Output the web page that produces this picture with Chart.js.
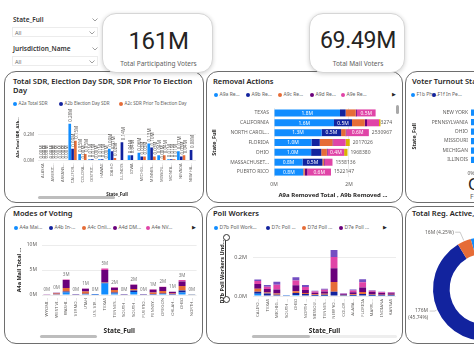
<!DOCTYPE html>
<html><head><meta charset="utf-8">
<script src="https://cdn.jsdelivr.net/npm/chart.js@4"></script>
<style>
html,body{margin:0;padding:0;overflow:hidden;}
body{width:474px;height:355px;position:relative;background:#fff;font-family:'Noto Sans','Open Sans',sans-serif;color:#252423;}
.panel{position:absolute;border:1px solid #6e6e6e;border-radius:12px;background:#fff;box-sizing:border-box;}
.card{position:absolute;border:1px solid #d6d6d6;border-radius:14px;background:#fff;box-shadow:0 1px 4px rgba(0,0,0,0.18);box-sizing:border-box;text-align:center;}
.title{position:absolute;font-size:7.5px;font-weight:600;color:#252423;line-height:8.5px;white-space:nowrap;}
.lg{position:absolute;color:#605E5C;white-space:nowrap;line-height:6px;}
.dot{display:inline-block;width:4px;height:4px;border-radius:50%;margin-right:1.5px;vertical-align:-0.5px;}
.t{position:absolute;white-space:nowrap;}
canvas{position:absolute;}
.sb{position:absolute;background:#bdbdbd;border-radius:2px;}
</style></head>
<body>
<!-- slicers -->
<div class="t" style="left:13px;top:15px;font-size:6.5px;font-weight:600;color:#333;">State_Full</div>
<svg class="t" style="left:92px;top:18px" width="6" height="4"><polyline points="0.5,0.5 3,3 5.5,0.5" fill="none" stroke="#888" stroke-width="0.8"/></svg>
<div class="t" style="left:12px;top:27px;width:86px;height:10px;border:1px solid #ececec;box-sizing:border-box;"></div>
<div class="t" style="left:15px;top:29px;font-size:5.5px;color:#666;">All</div>
<svg class="t" style="left:89px;top:31px" width="6" height="4"><polyline points="0.5,0.5 3,3 5.5,0.5" fill="none" stroke="#888" stroke-width="0.8"/></svg>
<div class="t" style="left:13px;top:44px;font-size:6.5px;font-weight:600;color:#333;">Jurisdiction_Name</div>
<svg class="t" style="left:92px;top:47px" width="6" height="4"><polyline points="0.5,0.5 3,3 5.5,0.5" fill="none" stroke="#888" stroke-width="0.8"/></svg>
<div class="t" style="left:12px;top:56px;width:86px;height:10px;border:1px solid #ececec;box-sizing:border-box;"></div>
<div class="t" style="left:15px;top:58px;font-size:5.5px;color:#666;">All</div>
<svg class="t" style="left:89px;top:60px" width="6" height="4"><polyline points="0.5,0.5 3,3 5.5,0.5" fill="none" stroke="#888" stroke-width="0.8"/></svg>

<!-- panels -->
<div class="panel" style="left:4px;top:71px;width:200px;height:132px;"></div>
<div class="panel" style="left:206px;top:71px;width:197px;height:132px;"></div>
<div class="panel" style="left:405px;top:71px;width:100px;height:132px;"></div>
<div class="panel" style="left:4px;top:206px;width:199px;height:138px;"></div>
<div class="panel" style="left:206px;top:206px;width:197px;height:138px;"></div>
<div class="panel" style="left:405px;top:206px;width:100px;height:138px;"></div>

<!-- cards -->
<div class="card" style="left:102px;top:13px;width:111px;height:60px;">
  <div class="t" style="left:0;width:111px;top:12px;font-family:Roboto,'Noto Sans',sans-serif;font-size:24px;line-height:30px;color:#252423;letter-spacing:-0.3px;">161M</div>
  <div class="t" style="left:0;width:111px;top:45px;font-size:6.5px;color:#605E5C;">Total Participating Voters</div>
</div>
<div class="card" style="left:309px;top:13px;width:96px;height:60px;">
  <div class="t" style="left:0;width:96px;top:12px;font-family:Roboto,'Noto Sans',sans-serif;font-size:23px;line-height:30px;color:#252423;letter-spacing:-0.3px;">69.49M</div>
  <div class="t" style="left:0;width:96px;top:45px;font-size:6.5px;color:#605E5C;">Total Mail Voters</div>
</div>

<!-- titles -->
<div class="title" style="left:13px;top:77px;">Total SDR, Election Day SDR, SDR Prior To Election<br>Day</div>
<div class="title" style="left:213px;top:77px;">Removal Actions</div>
<div class="title" style="left:412px;top:77px;">Voter Turnout Statistics</div>
<div class="title" style="left:13px;top:209px;">Modes of Voting</div>
<div class="title" style="left:213px;top:209px;">Poll Workers</div>
<div class="title" style="left:412px;top:209px;">Total Reg. Active, Inactive</div>

<div id="legends"></div>

<!-- scrollbars / slider -->
<div class="sb" style="left:38px;top:196px;width:77px;height:3px;"></div>
<div class="sb" style="left:396px;top:105px;width:3px;height:9px;background:#a8a8a8;"></div>
<div class="sb" style="left:40px;top:335px;width:57px;height:3px;"></div>
<div class="sb" style="left:252px;top:335px;width:145px;height:3px;background:#eeeeee;"></div>
<div class="sb" style="left:252px;top:335px;width:58px;height:3px;"></div>
<div class="t" style="left:225px;top:239px;width:1.3px;height:58px;background:#333;"></div>
<div class="t" style="left:222.5px;top:234px;width:5px;height:5px;border:1px solid #333;border-radius:50%;background:#fff;"></div>
<div class="t" style="left:222.5px;top:296px;width:5px;height:5px;border:1px solid #333;border-radius:50%;background:#fff;"></div>

<div class="t" style="left:468px;top:176px;font-size:16px;color:#252423;line-height:16px;">C</div>
<div class="t" style="left:470px;top:192px;font-size:7px;color:#605E5C;">F</div>

<canvas id="c1" width="194" height="94" style="left:6px;top:108px;"></canvas>
<canvas id="c2" width="192" height="100" style="left:208px;top:100px;"></canvas>
<canvas id="c3" width="200" height="100" style="left:405px;top:100px;"></canvas>
<canvas id="c4" width="194" height="104" style="left:6px;top:236px;"></canvas>
<canvas id="c5" width="186" height="104" style="left:214px;top:236px;"></canvas>
<canvas id="c6" width="160" height="128" style="left:405px;top:225px;"></canvas>

<script>
// ---------------- DATA ----------------
const sdrStates = ['ALASKA','AMERICAN SAMOA','ARKANSAS','CALIFORNIA','COLORADO','DISTRICT OF COLUMBIA','HAWAII','IDAHO','ILLINOIS','IOWA','MICHIGAN','MINNESOTA','MISSOURI','MONTANA','NEVADA','NEW HAMPSHIRE'];
const sdrTicks = ['ALASKA','AMERIC...','ARKANS...','CALIFOR...','COLORA...','DISTRIC...','HAWAII','IDAHO','ILLINOIS','IOWA','MICHIG...','MINNES...','MISSOU...','MONTA...','NEVADA','NEW HA...'];
const sdrTotal    = [0.00,0.00,0.00,0.28,0.05,0.01,0.01,0.09,null,0.04,0.06,0.13,0.04,0.01,0.07,null];
const sdrElection = [0.00,0.00,0.00,0.09,0.00,0.01,0.01,0.07,0.14,0.04,0.03,0.10,0.00,0.01,0.03,0.08];
const sdrPrior    = [0.00,0.00,0.00,0.15,0.05,0.00,0.00,0.02,null,null,0.03,0.03,0.04,0.01,0.04,null];
const sdrSeriesNames = ['A2a Total SDR','A2b Election Day SDR','A2c SDR Prior To Election Day'];

const removalStates = ['TEXAS','CALIFORNIA','NORTH CAROLINA','FLORIDA','OHIO','MASSACHUSETTS','PUERTO RICO'];
const removalTicks  = ['TEXAS','CALIFORNIA','NORTH CAROL...','FLORIDA','OHIO','MASSACHUSET...','PUERTO RICO'];
const removalA9a = [1.76,1.60,1.27,1.00,0.99,0.76,0.78];
const removalA9b = [0.15,0.48,0.52,0.22,0.27,0.53,0.00];
const removalA9c = [0.27,0.34,0.12,0.34,0.15,0.04,0.04];
const removalA9d = [0.03,0.06,0.02,0.02,0.02,0.02,0.07];
const removalA9e = [0.50,0.32,0.60,0.33,0.44,0.21,0.63];
const removalA9f = [0.00,0.04,0.00,0.11,0.09,0.00,0.00];
const removalTotals = [null,2843274,2530967,2017026,1968380,1558136,1522147];
const removalLegend = ['A9a Re...','A9b Re...','A9c Re...','A9d Re...','A9e Re...'];

const turnoutStates = ['NEW YORK','PENNSYLVANIA','OHIO','MISSOURI','MICHIGAN','ILLINOIS'];
const turnoutF1b = [61,63,60,58,64,59];
const turnoutF1f = [9,8,10,9,7,8];
const turnoutLegend = ['F1b Phy...','F1f In Pe...'];

const modeStates = ['WYOMING','WEST VIRGINIA','WASHINGTON','VERMONT','UTAH','U.S. VIRGIN ISLANDS','TEXAS','TENNESSEE','SOUTH DAKOTA','SOUTH CAROLINA','PUERTO RICO','PENNSYLVANIA','OREGON','OKLAHOMA','OHIO','NORTH DAKOTA'];
const modeTicks  = ['WYOMI...','WEST VI...','WASHI...','VERMO...','UTAH','U.S. VIR...','TEXAS','TENNES...','SOUTH ...','SOUTH ...','PUERTO...','PENNSY...','OREGON','OKLAH...','OHIO','NORTH...'];
const modeA4a = [0.08,0.08,0.50,0.10,0.15,0.02,2.30,0.30,0.10,0.60,0.08,0.10,0.20,0.10,0.50,0.05];
const modeA4b = [0.03,0.05,0.20,0.04,0.10,0.02,0.15,0.20,0.04,0.30,0.05,0.10,0.10,0.10,0.40,0.02];
const modeA4c = [0.01,0.17,0.70,0.02,0.45,0.01,0.10,0.50,0.02,0.30,0.02,0.30,0.50,0.10,0.90,0.01];
const modeA4d = [0.03,0.15,1.60,0.04,0.55,0.03,2.45,0.45,0.04,0.85,0.05,0.55,0.80,0.35,0.90,0.02];
const modeA4e = [0.00,0.02,0.10,0.00,0.05,0.00,0.30,0.08,0.00,0.05,0.00,0.08,0.07,0.02,0.30,0.00];
const modeLegend = ['A4a Mai...','A4b In-...','A4c Onli...','A4d DM...','A4e NV...'];

const pollStates = ['CALIFORNIA','TEXAS','MICHIGAN','SOUTH CAROLINA','OHIO','NORTH CAROLINA','MISSOURI','TENNESSEE','NEW YORK','COLORADO','ALABAMA','FLORIDA','MARYLAND','INDIANA','KANSAS'];
const pollTicks  = ['CALIFO...','TEXAS','MICHIG...','SOUTH ...','OHIO','NORTH ...','MISSOU...','TENNES...','NEW YO...','COLOR...','ALABA...','FLORIDA','MARYL...','INDIANA','KANSAS'];
const pollD7b = [0.012,0.003,0.002,0.001,0.005,0.002,0.001,0.001,0.002,0.001,0.001,0.002,0.001,0.001,0.001];
const pollD7c = [0.010,0.010,0.005,0.001,0.010,0.008,0.004,0.005,0.020,0.002,0.004,0.008,0.005,0.003,0.003];
const pollD7d = [0.015,0.005,0.006,0.000,0.010,0.006,0.004,0.005,0.050,0.002,0.004,0.010,0.004,0.003,0.003];
const pollD7e = [0.025,0.018,0.020,0.001,0.030,0.015,0.008,0.012,0.070,0.004,0.010,0.024,0.012,0.008,0.007];
const pollD7f = [0.015,0.012,0.025,0.000,0.025,0.015,0.006,0.009,0.058,0.003,0.009,0.026,0.005,0.004,0.004];
const pollD7g = [0.008,0.008,0.015,0.000,0.016,0.010,0.004,0.005,0.036,0.002,0.005,0.016,0.003,0.003,0.002];
const pollLegend = ['D7b Poll Work...','D7c Poll ...','D7d Poll ...','D7e Poll ...'];

const regLabels = ['Total Registered','Active','Inactive'];
const regValues = [192.4,176.0,16.35];

// ---------------- STYLE ----------------
const COL = ['#118DFF','#12239E','#E66C37','#6B007B','#E044A7','#744EC2','#D9B300'];
const FONT = "'Noto Sans','Open Sans',sans-serif";
Chart.defaults.font.family = FONT;
Chart.defaults.color = '#605E5C';
Chart.defaults.animation = false;
Chart.defaults.plugins.legend.display = false;
Chart.defaults.plugins.tooltip.enabled = false;

// legends (HTML)
function legend(top, fontSize, names, xs, arrowX){
  const root = document.getElementById('legends');
  names.forEach((n,i)=>{
    const d = document.createElement('div'); d.className='lg';
    d.style.left = xs[i]+'px'; d.style.top = (top-3)+'px'; d.style.fontSize = fontSize+'px';
    d.innerHTML = '<span class="dot" style="background:'+COL[i]+'"></span>'+n;
    root.appendChild(d);
  });
  if (arrowX){ const a=document.createElement('div'); a.className='lg'; a.style.left=arrowX+'px'; a.style.top=(top-3)+'px'; a.style.fontSize='5px'; a.style.color='#252423'; a.textContent='\u25B6'; root.appendChild(a);}
}
legend(103,4.5,sdrSeriesNames,[13,59,119]);
legend(94,5,removalLegend,[214,246,278,310,341],392);
legend(94,5,turnoutLegend,[411,432]);
legend(227,5,modeLegend,[14,49,82,113,146],192);
legend(227,5,pollLegend,[214,266,302,339],383);

const grid = {color:'#ececec', drawTicks:false};
function catX(ticks, fs, titleFs, titlePad, h){
  return {grid:{display:false,drawTicks:false}, border:{display:false},
    ticks:{autoSkip:false,minRotation:90,maxRotation:90,padding:3,font:{size:fs},color:'#605E5C',callback:(v,i)=>ticks[i]},
    title:{display:true,text:'State_Full',font:{size:titleFs,weight:'bold'},color:'#252423',padding:{top:0,bottom:titlePad}},
    afterFit:s=>{s.height=h;}};
}

// ---------- Chart 1 ----------
const sdrLabels = {id:'sdrLabels', afterDatasetsDraw(chart){
  const ctx=chart.ctx; ctx.save(); ctx.font='4.5px '+FONT; ctx.fillStyle='#605E5C';
  chart.data.datasets.forEach((ds,di)=>{
    chart.getDatasetMeta(di).data.forEach((bar,i)=>{
      const v=ds.data[i]; if(v==null) return;
      ctx.save(); ctx.translate(bar.x+1.3, bar.y-2); ctx.rotate(-Math.PI/2);
      ctx.textAlign='left'; ctx.textBaseline='middle'; ctx.fillText(v.toFixed(2)+'M',0,0); ctx.restore();
    });
  }); ctx.restore();
}};
new Chart(document.getElementById('c1'),{type:'bar',
  data:{labels:sdrStates,datasets:[
    {label:sdrSeriesNames[0],data:sdrTotal,backgroundColor:COL[0]},
    {label:sdrSeriesNames[1],data:sdrElection,backgroundColor:COL[1]},
    {label:sdrSeriesNames[2],data:sdrPrior,backgroundColor:COL[2]}]},
  options:{responsive:false,devicePixelRatio:1,layout:{padding:{top:2.6,right:4,left:0,bottom:0}},
    datasets:{bar:{categoryPercentage:0.85,barPercentage:0.95}},
    scales:{x:catX(sdrTicks,4,4.5,5,41.5),
      y:{min:0,max:0.35,border:{display:false},grid:grid,
        ticks:{stepSize:0.2,includeBounds:false,padding:4,font:{size:4.5},callback:v=>v.toFixed(1)+'M'},
        title:{display:true,text:'A2a Total SDR, A2b...',font:{size:4,weight:'bold'},color:'#252423',padding:{top:9,bottom:0}},
        afterFit:s=>{s.width=32;}}}},
  plugins:[sdrLabels]});

// ---------- Chart 2 ----------
const removalSeries=[removalA9a,removalA9b,removalA9c,removalA9d,removalA9e,removalA9f];
const removalLbl = {id:'removalLbl',
  beforeDatasetsDraw(chart){
    const ctx=chart.ctx, ca=chart.chartArea, xs=chart.scales.x, ys=chart.scales.y;
    ctx.save(); ctx.font='5px '+FONT; ctx.fillStyle='#605E5C'; ctx.textBaseline='middle'; ctx.textAlign='left';
    removalTotals.forEach((t,i)=>{
      if(t==null) return;
      const sum=removalSeries.reduce((a,s)=>a+s[i],0);
      const txt=String(t), w=ctx.measureText(txt).width;
      let x=xs.getPixelForValue(sum)+3; if(x+w>ca.right) x=ca.right-w;
      ctx.fillText(txt,x,ys.getPixelForValue(i));
    }); ctx.restore();
  },
  afterDatasetsDraw(chart){
    const ctx=chart.ctx; ctx.save(); ctx.font='5px '+FONT; ctx.fillStyle='#ffffff'; ctx.textAlign='center'; ctx.textBaseline='middle';
    chart.data.datasets.forEach((ds,di)=>{
      chart.getDatasetMeta(di).data.forEach((bar,i)=>{
        const p=bar.getProps(['x','y','base']); const w=p.x-p.base;
        if(w>=14) ctx.fillText(ds.data[i].toFixed(1)+'M',(p.x+p.base)/2,p.y+0.3);
      });
    }); ctx.restore();
  }};
new Chart(document.getElementById('c2'),{type:'bar',
  data:{labels:removalStates,datasets:removalSeries.map((s,i)=>({label:'A9'+'abcdef'[i],data:s,backgroundColor:COL[i===5?6:i]}))},
  options:{indexAxis:'y',responsive:false,devicePixelRatio:1,layout:{padding:{top:7.8,right:8,left:0,bottom:0}},
    datasets:{bar:{categoryPercentage:0.75,barPercentage:0.95}},
    scales:{
      x:{stacked:true,min:0,max:3.147,border:{display:false},grid:grid,
        ticks:{stepSize:2,includeBounds:false,padding:5,font:{size:5},callback:v=>(v%2===0)?v+'M':''},
        title:{display:true,text:'A9a Removed Total , A9b Removed ...',font:{size:6,weight:'bold'},color:'#252423',padding:{top:0,bottom:1}},
        afterFit:s=>{s.height=23;}},
      y:{stacked:true,border:{display:false},grid:{display:false,drawTicks:false},
        ticks:{padding:5,font:{size:5},color:'#605E5C',callback:(v,i)=>removalTicks[i]},
        title:{display:true,text:'State_Full',font:{size:5.5,weight:'bold'},color:'#252423',padding:{top:3,bottom:0}},
        afterFit:s=>{s.width=66;}}}},
  plugins:[removalLbl]});

// ---------- Chart 3 ----------
new Chart(document.getElementById('c3'),{type:'bar',
  data:{labels:turnoutStates,datasets:[
    {label:turnoutLegend[0],data:turnoutF1b,backgroundColor:COL[0]},
    {label:turnoutLegend[1],data:turnoutF1f,backgroundColor:COL[1]}]},
  options:{indexAxis:'y',responsive:false,devicePixelRatio:1,layout:{padding:{top:8,right:0,left:0,bottom:0}},
    datasets:{bar:{categoryPercentage:0.7,barPercentage:0.95}},
    scales:{
      x:{stacked:true,min:0,max:100,border:{display:false},grid:{display:false,drawTicks:false},
        ticks:{stepSize:20,padding:6,font:{size:5},callback:v=>v+'%'},afterFit:s=>{s.height=35.3;}},
      y:{stacked:true,border:{display:false},grid:{display:false,drawTicks:false},
        ticks:{padding:3,font:{size:5},color:'#605E5C'},
        title:{display:true,text:'State_Full',font:{size:5.5,weight:'bold'},color:'#252423',padding:{top:6,bottom:0}},
        afterFit:s=>{s.width=66;}}}}});

// ---------- Chart 4 ----------
const modeSeries=[modeA4a,modeA4b,modeA4c,modeA4d,modeA4e];
const modeTotals={id:'modeTotals',afterDatasetsDraw(chart){
  const ctx=chart.ctx, xs=chart.scales.x, ys=chart.scales.y;
  ctx.save(); ctx.font='4.5px '+FONT; ctx.fillStyle='#777'; ctx.textAlign='center'; ctx.textBaseline='bottom';
  modeStates.forEach((s,i)=>{ const t=modeSeries.reduce((a,ser)=>a+ser[i],0);
    ctx.fillText(Math.round(t)+'M',xs.getPixelForValue(i),ys.getPixelForValue(t)-2.5); });
  ctx.restore();
}};
new Chart(document.getElementById('c4'),{type:'bar',
  data:{labels:modeStates,datasets:modeSeries.map((s,i)=>({label:modeLegend[i],data:s,backgroundColor:COL[i]}))},
  options:{responsive:false,devicePixelRatio:1,layout:{padding:{top:9,right:3,left:0,bottom:0}},
    datasets:{bar:{categoryPercentage:0.8,barPercentage:0.9}},
    scales:{x:Object.assign(catX(modeTicks,4.3,6.5,4.5,45),{stacked:true}),
      y:{stacked:true,min:0,max:10,border:{display:false},grid:grid,
        ticks:{stepSize:5,padding:5,font:{size:5},callback:v=>v+'M'},
        title:{display:true,text:'A4a Mail Total ...',font:{size:5.5,weight:'bold'},color:'#252423',padding:{top:10,bottom:0}},
        afterFit:s=>{s.width=36;}}}},
  plugins:[modeTotals]});

// ---------- Chart 5 ----------
const pollSeries=[pollD7b,pollD7c,pollD7d,pollD7e,pollD7f,pollD7g];
new Chart(document.getElementById('c5'),{type:'bar',
  data:{labels:pollStates,datasets:pollSeries.map((s,i)=>({label:'D7'+'bcdefg'[i],data:s,backgroundColor:COL[i]}))},
  options:{responsive:false,devicePixelRatio:1,layout:{padding:{top:11.25,right:4,left:0,bottom:0}},
    datasets:{bar:{categoryPercentage:0.8,barPercentage:0.9}},
    scales:{x:Object.assign(catX(pollTicks,4.3,6.5,4.5,44),{stacked:true}),
      y:{stacked:true,min:0,max:0.25,border:{display:false},grid:grid,
        ticks:{stepSize:0.2,includeBounds:false,padding:6,font:{size:5.5},callback:v=>v.toFixed(1)+'M'},
        title:{display:true,text:'D7b Poll Workers Und...',font:{size:5.5,weight:'bold'},color:'#252423',padding:{top:5,bottom:0}},
        afterFit:s=>{s.width=39;}}}}});

// ---------- Chart 6 ----------
const donutLbl={id:'donutLbl',afterDatasetsDraw(chart){
  const ctx=chart.ctx, meta=chart.getDatasetMeta(0), data=chart.data.datasets[0].data;
  const total=data.reduce((a,b)=>a+b,0);
  ctx.save(); ctx.font='5px '+FONT; ctx.fillStyle='#605E5C'; ctx.strokeStyle='#a8a8a8'; ctx.lineWidth=0.6;
  meta.data.forEach((arc,i)=>{
    const p=arc.getProps(['x','y','startAngle','endAngle','outerRadius']);
    const a=(p.startAngle+p.endAngle)/2, c=Math.cos(a), s=Math.sin(a);
    const ext = s<-0.8 ? 10 : 3;
    const x1=p.x+c*(p.outerRadius+1), y1=p.y+s*(p.outerRadius+1);
    const x2=p.x+c*(p.outerRadius+ext), y2=p.y+s*(p.outerRadius+ext);
    const dir=c<0?-1:1, x3=x2+dir*5;
    ctx.beginPath(); ctx.moveTo(x1,y1); ctx.lineTo(x2,y2); ctx.lineTo(x3,y2); ctx.stroke();
    const l1=Math.round(data[i])+'M', l2='('+(data[i]/total*100).toFixed(2)+'%)', one=l1+' '+l2;
    const tx=x3+dir*1.5; ctx.textAlign=dir<0?'right':'left'; ctx.textBaseline='middle';
    if(dir<0 && tx-ctx.measureText(one).width<14){ctx.fillText(l1,tx,y2);ctx.fillText(l2,tx,y2+7);} else ctx.fillText(one,tx,y2);
  }); ctx.restore();
}};
new Chart(document.getElementById('c6'),{type:'doughnut',
  data:{labels:regLabels,datasets:[{data:regValues,backgroundColor:[COL[0],COL[1],COL[2]],borderWidth:0}]},
  options:{responsive:false,devicePixelRatio:1,cutout:'68%',rotation:-16,layout:{padding:{top:12,bottom:12,left:28,right:28}}},
  plugins:[donutLbl]});
</script>
</body></html>
